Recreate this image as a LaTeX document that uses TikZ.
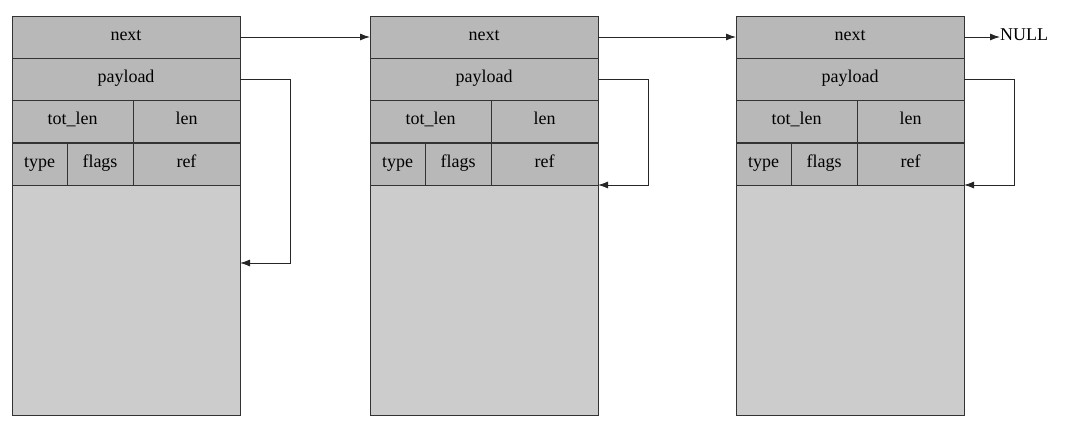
\documentclass[tikz,border=0pt]{standalone}
\usepackage{fontspec}
\setmainfont{Liberation Serif}
\usetikzlibrary{arrows.meta,positioning}

\begin{document}
\begin{tikzpicture}[
		x=1pt, y=-1pt,
		txt/.style = {font=\fontsize{18}{18}\selectfont, text height=12pt, text depth=4pt},
		cell/.style = {txt, draw=black!80, fill=black!28, line width=0.8pt, inner sep=0pt, outer sep=0pt, anchor=north west, minimum height=42pt},
		body/.style = {draw=black!80, fill=black!20, line width=0.8pt, inner sep=0pt, outer sep=0pt, anchor=north west, minimum height=230pt, minimum width=228pt},
		link/.style = {-{Latex[length=10pt,width=7pt]}, draw=black!85, line width=0.9pt}]
		
		\useasboundingbox (0,0) rectangle (1070,427);
		
		\foreach \n/\x in {a/12, b/370, c/736}{
		\node[cell, minimum width=228pt] (\n-next) at (\x,16) {next};
		\node[cell, minimum width=228pt] (\n-pay) at (\x,58) {payload};
		\node[cell, minimum width=121pt] (\n-tot) at (\x,100) {tot\_len};
		\node[cell, minimum width=107pt] (\n-len) at (\x+121,100) {len};
		\node[cell, minimum width=55pt] (\n-type) at (\x,143) {type};
		\node[cell, minimum width=66pt] (\n-flags) at (\x+55,143) {flags};
		\node[cell, minimum width=107pt] (\n-ref) at (\x+121,143) {ref};
		\node[body] (\n-body) at (\x,185) {};
		}
		
		\node[txt, anchor=west, inner sep=0pt] (null) at (1000,37) {NULL};
		\coordinate (a-in) at (240,263);
		
		% next pointers
		\draw[link] (a-next.east) -- (b-next.west);
		\draw[link] (b-next.east) -- (c-next.west);
		\draw[link] (c-next.east) -- (null.west);
		
		% payload pointers
		\draw[link] (a-pay.east) -- ++(50,0) |- (a-in);
		\draw[link] (b-pay.east) -- ++(50,0) |- (b-ref.south east);
		\draw[link] (c-pay.east) -- ++(50,0) |- (c-ref.south east);
		
	\end{tikzpicture}
\end{document}
